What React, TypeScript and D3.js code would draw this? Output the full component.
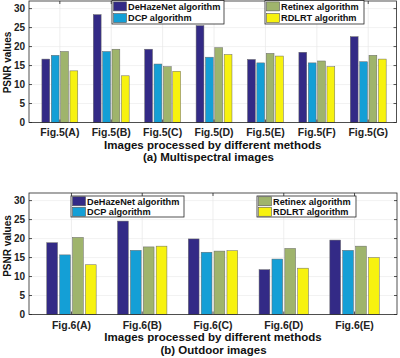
import React from "react";
import * as d3 from "d3";

const seriesNames = ["DeHazeNet algorithm", "DCP algorithm", "Retinex algorithm", "RDLRT algorithm"];
const seriesColors = ["#332a86", "#149fd6", "#9fb46c", "#f7f20f"];

const catsA = ["Fig.5(A)", "Fig.5(B)", "Fig.5(C)", "Fig.5(D)", "Fig.5(E)", "Fig.5(F)", "Fig.5(G)"];
const dehazeA = [16.7, 28.4, 19.3, 25.5, 16.6, 18.5, 22.6];
const dcpA = [17.7, 18.7, 15.4, 17.2, 15.7, 15.7, 16.0];
const retinexA = [18.7, 19.3, 14.7, 19.7, 18.2, 16.2, 17.7];
const rdlrtA = [13.6, 12.3, 13.5, 17.9, 17.5, 14.7, 16.7];

const catsB = ["Fig.6(A)", "Fig.6(B)", "Fig.6(C)", "Fig.6(D)", "Fig.6(E)"];
const dehazeB = [18.9, 24.6, 19.9, 11.8, 19.6];
const dcpB = [15.7, 16.9, 16.4, 14.6, 16.9];
const retinexB = [20.3, 17.8, 16.7, 17.4, 18.0];
const rdlrtB = [13.1, 18.0, 16.8, 12.2, 15.0];

const yTicks = [0, 5, 10, 15, 20, 25, 30];

const FONT = "'Liberation Sans', Arial, sans-serif";
const AX = "#262626";

type PanelProps = {
  cats: string[];
  series: number[][];
  left: number; right: number; top: number; bottom: number;
  xPadL: number; xPadR: number;
  catY: number; titleY: number; capY: number; capX: number; caption: string;
  yTitleY: number;
  legL: { x: number; y: number; w: number; h: number };
  legR: { x: number; y: number; w: number; h: number };
};

function Legend({ box, names, colors }: { box: { x: number; y: number; w: number; h: number }; names: string[]; colors: string[] }) {
  const rowH = box.h / 2;
  return (
    <g>
      <rect x={box.x} y={box.y} width={box.w} height={box.h} fill="#fff" stroke={AX} strokeWidth={0.8} />
      {names.map((n, i) => {
        const cy = box.y + rowH * (i + 0.5);
        return (
          <g key={n}>
            <rect x={box.x + 1.5} y={cy - 4.5} width={13} height={9} fill={colors[i]} stroke="#555" strokeWidth={0.6} />
            <text x={box.x + 16} y={cy + 3.3} fontSize={9.2} fontWeight="bold" fill="#111" fontFamily={FONT}>{n}</text>
          </g>
        );
      })}
    </g>
  );
}

function Panel(p: PanelProps) {
  const n = p.cats.length;
  const x = d3.scaleLinear().domain([1 - p.xPadL, n + p.xPadR]).range([p.left, p.right]);
  const y = d3.scaleLinear().domain([0, 32]).range([p.bottom, p.top]);
  const step = 0.182;
  const bw = 0.152;
  const cx = (p.left + p.right) / 2;
  return (
    <g>
      {yTicks.map((t) => (
        <line key={"gy" + t} x1={p.left} x2={p.right} y1={y(t)} y2={y(t)} stroke="#ececec" strokeWidth={0.7} />
      ))}
      {p.cats.map((c, i) => (
        <line key={"gx" + c} x1={x(i + 1)} x2={x(i + 1)} y1={p.top} y2={p.bottom} stroke="#e6e6e6" strokeWidth={0.7} />
      ))}
      {p.series.map((vals, s) =>
        vals.map((v, i) => {
          const xc = x(i + 1) + (s - 1.5) * step * (x(2) - x(1));
          const w = bw * (x(2) - x(1));
          return (
            <rect key={s + "-" + i} x={xc - w / 2} y={y(v)} width={w} height={y(0) - y(v)}
              fill={seriesColors[s]} stroke="#666" strokeWidth={0.5} />
          );
        })
      )}
      <rect x={p.left} y={p.top} width={p.right - p.left} height={p.bottom - p.top} fill="none" stroke={AX} strokeWidth={0.8} />
      {yTicks.map((t) => (
        <g key={"ty" + t}>
          <line x1={p.left} x2={p.left + 3} y1={y(t)} y2={y(t)} stroke={AX} strokeWidth={0.8} />
          <line x1={p.right} x2={p.right - 3} y1={y(t)} y2={y(t)} stroke={AX} strokeWidth={0.8} />
          <text x={p.left - 4} y={y(t) + 3.6} textAnchor="end" fontSize={10} fontWeight="bold" fill="#222" fontFamily={FONT}>{t}</text>
        </g>
      ))}
      {p.cats.map((c, i) => (
        <g key={"tx" + c}>
          <line x1={x(i + 1)} x2={x(i + 1)} y1={p.bottom} y2={p.bottom - 3} stroke={AX} strokeWidth={0.8} />
          <line x1={x(i + 1)} x2={x(i + 1)} y1={p.top} y2={p.top + 3} stroke={AX} strokeWidth={0.8} />
          <text x={x(i + 1)} y={p.catY} textAnchor="middle" fontSize={10.5} fontWeight="bold" fill="#222" fontFamily={FONT}>{c}</text>
        </g>
      ))}
      <text x={cx} y={p.titleY} textAnchor="middle" fontSize={11.5} fontWeight="bold" fill="#111" fontFamily={FONT}>Images processed by different methods</text>
      <text x={p.capX} y={p.capY} textAnchor="middle" fontSize={11.5} fontWeight="bold" fill="#111" fontFamily={FONT}>{p.caption}</text>
      <text transform={`translate(10.5,${p.yTitleY}) rotate(-90)`} textAnchor="middle" fontSize={10} fontWeight="bold" fill="#111" fontFamily={FONT}>PSNR values</text>
      <Legend box={p.legL} names={seriesNames.slice(0, 2)} colors={seriesColors.slice(0, 2)} />
      <Legend box={p.legR} names={seriesNames.slice(2, 4)} colors={seriesColors.slice(2, 4)} />
    </g>
  );
}

export default function App() {
  return (
    <svg width={400} height={358} style={{ position: "absolute", left: 0, top: 0, background: "#fff" }}>
      <rect x={0} y={0} width={400} height={358} fill="#fff" />
      <Panel
        cats={catsA}
        series={[dehazeA, dcpA, retinexA, rdlrtA]}
        left={29} right={396.5} top={1} bottom={122.5}
        xPadL={0.6} xPadR={0.55}
        catY={135.5} titleY={149} capY={160.5} capX={208.5} caption="(a) Multispectral images"
        yTitleY={62.5}
        legL={{ x: 112, y: 0.5, w: 112, h: 23.5 }}
        legR={{ x: 265, y: 0.5, w: 99, h: 23.5 }}
      />
      <Panel
        cats={catsB}
        series={[dehazeB, dcpB, retinexB, rdlrtB]}
        left={29} right={397} top={193} bottom={314.5}
        xPadL={0.6} xPadR={0.6}
        catY={328.5} titleY={341} capY={354} capX={213.5} caption="(b) Outdoor images"
        yTitleY={246}
        legL={{ x: 71, y: 196, w: 113, h: 21 }}
        legR={{ x: 257, y: 196, w: 99, h: 21 }}
      />
    </svg>
  );
}
